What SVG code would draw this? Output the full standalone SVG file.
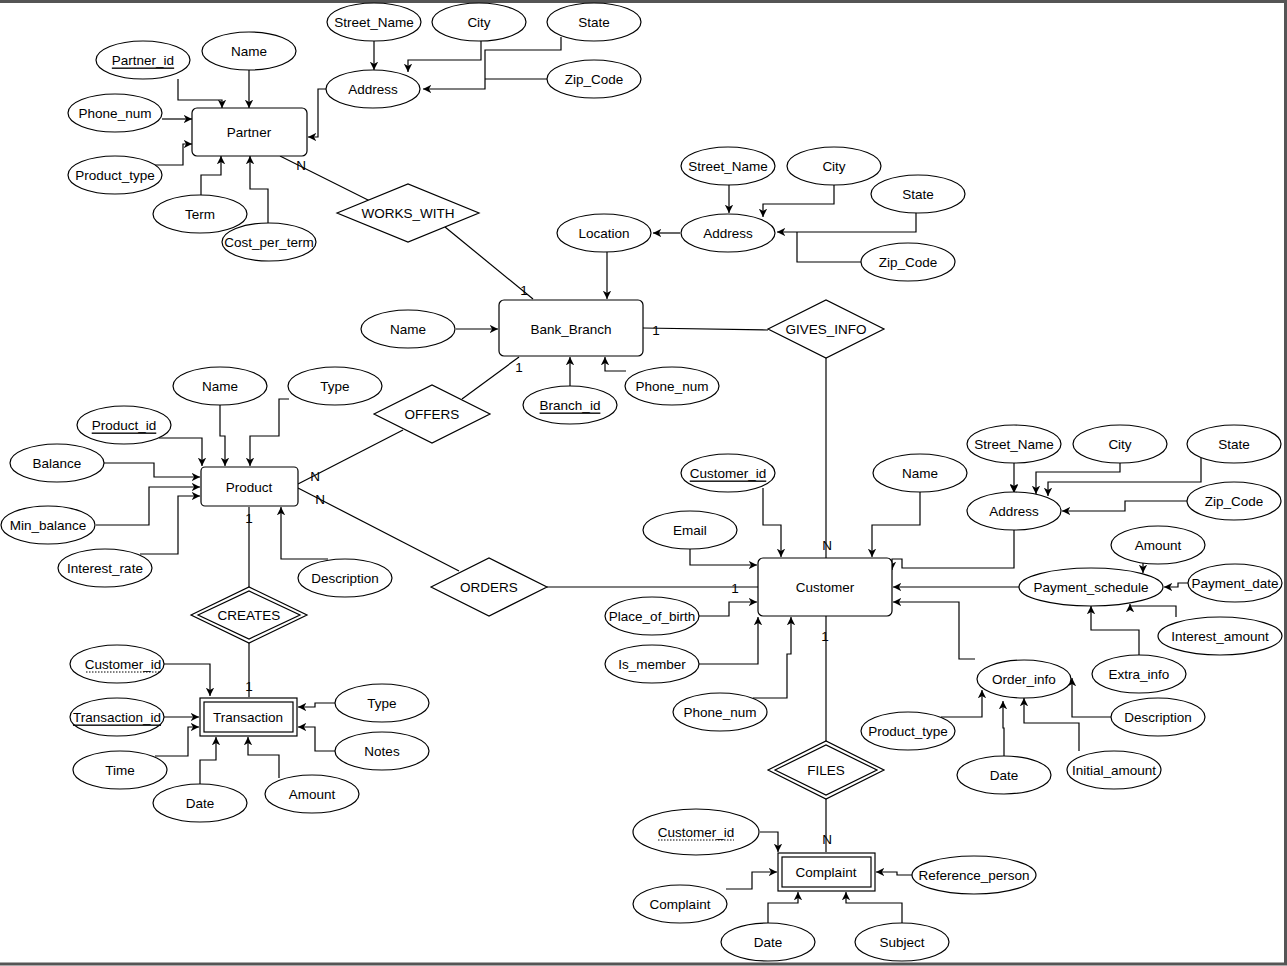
<svg xmlns="http://www.w3.org/2000/svg" width="1287" height="966" viewBox="0 0 1287 966">
<style>
text{font-family:"Liberation Sans",Arial,sans-serif;font-size:13.5px;fill:#000;text-anchor:middle;dominant-baseline:central}
ellipse,rect.e,polygon{fill:#fff;stroke:#000;stroke-width:1.2}
#connectors path,#connectors polyline{fill:none;stroke:#000;stroke-width:1.2}
.u{text-decoration:underline}
.d{fill:none;stroke:#000;stroke-width:1;stroke-dasharray:1.5 1.5}
.c{font-size:12px}
</style>
<defs><marker id="a" viewBox="0 0 10 10" refX="10" refY="5" markerWidth="7" markerHeight="7" orient="auto-start-reverse"><path d="M0,0 L10,5 L0,10 L3,5 Z" fill="#000"/></marker></defs>
<rect x="0" y="0" width="1287" height="966" fill="#fff"/>
<path d="M0,1.5 H1285.5 V964 H0" fill="none" stroke="#555" stroke-width="3"/>
<g id="connectors" marker-end="url(#a)">
<path d="M178,79 V100 H222 V108"/><path d="M249,70 V108"/><path d="M162,119 H192"/><path d="M155,165 H183 V144 H192"/>
<path d="M201,195 V175 H221 V156"/><path d="M268,223 V189 H250 V156"/>
<path d="M374,41 V70"/><path d="M481,41 V60 H408 V72"/><path d="M561,37 V50 H485 V89 H423"/><path d="M547,79 H485" marker-end="none"/>
<path d="M326,89 H318 V137 H308"/>
<path d="M280,156 L372,202" marker-end="none"/><path d="M445,227 L533,299" marker-end="none"/>
<path d="M607,252 V299"/><path d="M680,233 H653"/><path d="M729,185 V213"/><path d="M834,185 V204 H763 V217"/>
<path d="M916,213 V232 H777"/><path d="M861,262 H797 V232" marker-end="none"/>
<path d="M456,329 H498"/><path d="M570,386 V357"/><path d="M626,371 H605 V357"/>
<path d="M643,328 L768,330" marker-end="none"/><path d="M826,358 V558" marker-end="none"/>
<path d="M519,357 L462,399" marker-end="none"/><path d="M403,430 L298,484" marker-end="none"/>
<path d="M220,405 V436 H225 V466"/><path d="M289,399 H279 V436 H250 V466"/><path d="M159,438 H202 V466"/>
<path d="M104,463 H154 V477 H200"/><path d="M96,525 H149 V487 H200"/><path d="M140,554 H178 V496 H200"/><path d="M328,559 H281 V507"/>
<path d="M249,507 V588" marker-end="none"/><path d="M249,643 V697" marker-end="none"/>
<path d="M298,488 L459,571" marker-end="none"/><path d="M547,587 H758" marker-end="none"/>
<path d="M164,664 H210 V696"/><path d="M164,717 H199"/><path d="M155,756 H188 V727 H199"/><path d="M200,784 V760 H216 V737"/>
<path d="M279,778 V755 H248 V737"/><path d="M335,703 H315 V707 H298"/><path d="M335,751 H315 V727 H298"/>
<path d="M763,488 V525 H781 V557"/><path d="M690,549 V565 H757"/><path d="M920,492 V525 H872 V557"/>
<path d="M1014,492 V493"/><path d="M1014,463 V492"/><path d="M1120,463 V472 H1036 V494"/><path d="M1201,458 V482 H1048 V496"/><path d="M1187,501 H1125 V511 H1062"/>
<path d="M1014,530 V568 H902 V559 H892 V570"/>
<path d="M1019,587 H893"/><path d="M1143,563 V573"/><path d="M1188,583 H1178 V587 H1164"/>
<path d="M1176,617 V606 H1130 V604"/><path d="M1139,655 V630 H1091 V606"/>
<path d="M975,659 H959 V602 H893"/><path d="M941,717 H982 V690"/><path d="M1004,756 V728 H1003 V701"/><path d="M1079,751 V723 H1024 V698"/><path d="M1111,717 H1072 V678"/>
<path d="M753,698 H787 V654 H791 V617"/><path d="M699,664 H758 V617"/><path d="M699,616 H729 V602 H757"/>
<path d="M826,616 V742" marker-end="none"/><path d="M826,799 V852" marker-end="none"/>
<path d="M760,832 H778 V852"/><path d="M726,889 H752 V872 H777"/><path d="M768,923 V903 H798 V892"/><path d="M902,923 V903 H846 V892"/><path d="M912,875 H897 V872 H876"/>
</g>
<g id="labels">
<text x="301" y="165">N</text><text x="524" y="290">1</text><text x="656" y="330">1</text><text x="827" y="545">N</text>
<text x="519" y="367">1</text><text x="315" y="476">N</text><text x="320" y="499">N</text><text x="249" y="518">1</text>
<text x="249" y="686">1</text><text x="735" y="588">1</text><text x="825" y="636">1</text><text x="827" y="839">N</text>
</g>
<g id="partner"><rect class="e" x="192" y="108" width="115" height="48" rx="5"/><text x="249" y="132">Partner</text></g>
<g id="partner_id"><ellipse cx="143" cy="60" rx="47" ry="19"/><text x="143" y="60" class="u">Partner_id</text></g>
<g id="partner_name"><ellipse cx="249" cy="51" rx="47" ry="19"/><text x="249" y="51">Name</text></g>
<g id="partner_phone"><ellipse cx="115" cy="113" rx="47" ry="19"/><text x="115" y="113">Phone_num</text></g>
<g id="partner_ptype"><ellipse cx="115" cy="175" rx="47" ry="19"/><text x="115" y="175">Product_type</text></g>
<g id="partner_term"><ellipse cx="200" cy="214" rx="47" ry="19"/><text x="200" y="214">Term</text></g>
<g id="partner_cost"><ellipse cx="269" cy="242" rx="47" ry="19"/><text x="269" y="242">Cost_per_term</text></g>
<g id="p_address"><ellipse cx="373" cy="89" rx="47" ry="19"/><text x="373" y="89">Address</text></g>
<g id="p_street"><ellipse cx="374" cy="22" rx="47" ry="19"/><text x="374" y="22">Street_Name</text></g>
<g id="p_city"><ellipse cx="479" cy="22" rx="47" ry="19"/><text x="479" y="22">City</text></g>
<g id="p_state"><ellipse cx="594" cy="22" rx="47" ry="19"/><text x="594" y="22">State</text></g>
<g id="p_zip"><ellipse cx="594" cy="79" rx="47" ry="19"/><text x="594" y="79">Zip_Code</text></g>
<g id="works_with"><polygon points="337,213 408,184 479,213 408,242"/><text x="408" y="213">WORKS_WITH</text></g>
<g id="bank_branch"><rect class="e" x="499" y="300" width="144" height="56" rx="5"/><text x="571" y="329">Bank_Branch</text></g>
<g id="b_location"><ellipse cx="604" cy="233" rx="47" ry="19"/><text x="604" y="233">Location</text></g>
<g id="b_address"><ellipse cx="728" cy="233" rx="47" ry="19"/><text x="728" y="233">Address</text></g>
<g id="b_street"><ellipse cx="728" cy="166" rx="47" ry="19"/><text x="728" y="166">Street_Name</text></g>
<g id="b_city"><ellipse cx="834" cy="166" rx="47" ry="19"/><text x="834" y="166">City</text></g>
<g id="b_state"><ellipse cx="918" cy="194" rx="47" ry="19"/><text x="918" y="194">State</text></g>
<g id="b_zip"><ellipse cx="908" cy="262" rx="47" ry="19"/><text x="908" y="262">Zip_Code</text></g>
<g id="b_name"><ellipse cx="408" cy="329" rx="47" ry="19"/><text x="408" y="329">Name</text></g>
<g id="b_id"><ellipse cx="570" cy="405" rx="47" ry="19"/><text x="570" y="405" class="u">Branch_id</text></g>
<g id="b_phone"><ellipse cx="672" cy="386" rx="47" ry="19"/><text x="672" y="386">Phone_num</text></g>
<g id="gives_info"><polygon points="768,329 826,300 884,329 826,358"/><text x="826" y="329">GIVES_INFO</text></g>
<g id="offers"><polygon points="374,414 432,385 490,414 432,443"/><text x="432" y="414">OFFERS</text></g>
<g id="product"><rect class="e" x="201" y="467" width="97" height="39" rx="4"/><text x="249" y="487">Product</text></g>
<g id="pr_name"><ellipse cx="220" cy="386" rx="47" ry="19"/><text x="220" y="386">Name</text></g>
<g id="pr_type"><ellipse cx="335" cy="386" rx="47" ry="19"/><text x="335" y="386">Type</text></g>
<g id="pr_id"><ellipse cx="124" cy="425" rx="47" ry="19"/><text x="124" y="425" class="u">Product_id</text></g>
<g id="pr_balance"><ellipse cx="57" cy="463" rx="47" ry="19"/><text x="57" y="463">Balance</text></g>
<g id="pr_minbal"><ellipse cx="48" cy="525" rx="47" ry="19"/><text x="48" y="525">Min_balance</text></g>
<g id="pr_rate"><ellipse cx="105" cy="568" rx="47" ry="19"/><text x="105" y="568">Interest_rate</text></g>
<g id="pr_desc"><ellipse cx="345" cy="578" rx="47" ry="19"/><text x="345" y="578">Description</text></g>
<g id="creates"><polygon points="191,615 249,587 307,615 249,643"/><polygon points="198,615 249,591 300,615 249,639"/><text x="249" y="615">CREATES</text></g>
<g id="orders"><polygon points="431,587 489,558 547,587 489,616"/><text x="489" y="587">ORDERS</text></g>
<g id="transaction"><rect class="e" x="200" y="698" width="97" height="38"/><rect class="e" x="204" y="702" width="89" height="30"/><text x="248" y="717">Transaction</text></g>
<g id="t_cust"><ellipse cx="117" cy="664" rx="47" ry="19"/><text x="123" y="664">Customer_id</text><line class="d" x1="86" y1="672" x2="161" y2="672"/></g>
<g id="t_id"><ellipse cx="117" cy="717" rx="47" ry="19"/><text x="117" y="717" class="u">Transaction_id</text></g>
<g id="t_time"><ellipse cx="120" cy="770" rx="47" ry="19"/><text x="120" y="770">Time</text></g>
<g id="t_date"><ellipse cx="200" cy="803" rx="47" ry="19"/><text x="200" y="803">Date</text></g>
<g id="t_amount"><ellipse cx="312" cy="794" rx="47" ry="19"/><text x="312" y="794">Amount</text></g>
<g id="t_type"><ellipse cx="382" cy="703" rx="47" ry="19"/><text x="382" y="703">Type</text></g>
<g id="t_notes"><ellipse cx="382" cy="751" rx="47" ry="19"/><text x="382" y="751">Notes</text></g>
<g id="customer"><rect class="e" x="758" y="558" width="134" height="58" rx="5"/><text x="825" y="587">Customer</text></g>
<g id="c_id"><ellipse cx="728" cy="473" rx="47" ry="19"/><text x="728" y="473" class="u">Customer_id</text></g>
<g id="c_email"><ellipse cx="690" cy="530" rx="47" ry="19"/><text x="690" y="530">Email</text></g>
<g id="c_name"><ellipse cx="920" cy="473" rx="47" ry="19"/><text x="920" y="473">Name</text></g>
<g id="c_address"><ellipse cx="1014" cy="511" rx="47" ry="19"/><text x="1014" y="511">Address</text></g>
<g id="c_street"><ellipse cx="1014" cy="444" rx="47" ry="19"/><text x="1014" y="444">Street_Name</text></g>
<g id="c_city"><ellipse cx="1120" cy="444" rx="47" ry="19"/><text x="1120" y="444">City</text></g>
<g id="c_state"><ellipse cx="1234" cy="444" rx="47" ry="19"/><text x="1234" y="444">State</text></g>
<g id="c_zip"><ellipse cx="1234" cy="501" rx="47" ry="19"/><text x="1234" y="501">Zip_Code</text></g>
<g id="c_pay"><ellipse cx="1091" cy="587" rx="72" ry="19"/><text x="1091" y="587">Payment_schedule</text></g>
<g id="c_amount"><ellipse cx="1158" cy="545" rx="47" ry="19"/><text x="1158" y="545">Amount</text></g>
<g id="c_paydate"><ellipse cx="1235" cy="583" rx="47" ry="19"/><text x="1235" y="583">Payment_date</text></g>
<g id="c_intamt"><ellipse cx="1220" cy="636" rx="62" ry="19"/><text x="1220" y="636">Interest_amount</text></g>
<g id="c_extra"><ellipse cx="1139" cy="674" rx="47" ry="19"/><text x="1139" y="674">Extra_info</text></g>
<g id="c_order"><ellipse cx="1024" cy="679" rx="47" ry="19"/><text x="1024" y="679">Order_info</text></g>
<g id="c_optype"><ellipse cx="908" cy="731" rx="47" ry="19"/><text x="908" y="731">Product_type</text></g>
<g id="c_odate"><ellipse cx="1004" cy="775" rx="47" ry="19"/><text x="1004" y="775">Date</text></g>
<g id="c_init"><ellipse cx="1114" cy="770" rx="47" ry="19"/><text x="1114" y="770">Initial_amount</text></g>
<g id="c_desc"><ellipse cx="1158" cy="717" rx="47" ry="19"/><text x="1158" y="717">Description</text></g>
<g id="c_phone"><ellipse cx="720" cy="712" rx="47" ry="19"/><text x="720" y="712">Phone_num</text></g>
<g id="c_member"><ellipse cx="652" cy="664" rx="47" ry="19"/><text x="652" y="664">Is_member</text></g>
<g id="c_pob"><ellipse cx="652" cy="616" rx="47" ry="19"/><text x="652" y="616">Place_of_birth</text></g>
<g id="files"><polygon points="768,770 826,741 884,770 826,799"/><polygon points="775,770 826,745 877,770 826,795"/><text x="826" y="770">FILES</text></g>
<g id="complaint"><rect class="e" x="778" y="853" width="97" height="38"/><rect class="e" x="782" y="857" width="89" height="30"/><text x="826" y="872">Complaint</text></g>
<g id="cp_cust"><ellipse cx="696" cy="832" rx="63" ry="23"/><text x="696" y="832">Customer_id</text><line class="d" x1="658" y1="840" x2="734" y2="840"/></g>
<g id="cp_text"><ellipse cx="680" cy="904" rx="47" ry="19"/><text x="680" y="904">Complaint</text></g>
<g id="cp_date"><ellipse cx="768" cy="942" rx="47" ry="19"/><text x="768" y="942">Date</text></g>
<g id="cp_subject"><ellipse cx="902" cy="942" rx="47" ry="19"/><text x="902" y="942">Subject</text></g>
<g id="cp_ref"><ellipse cx="974" cy="875" rx="62" ry="19"/><text x="974" y="875">Reference_person</text></g>
</svg>
